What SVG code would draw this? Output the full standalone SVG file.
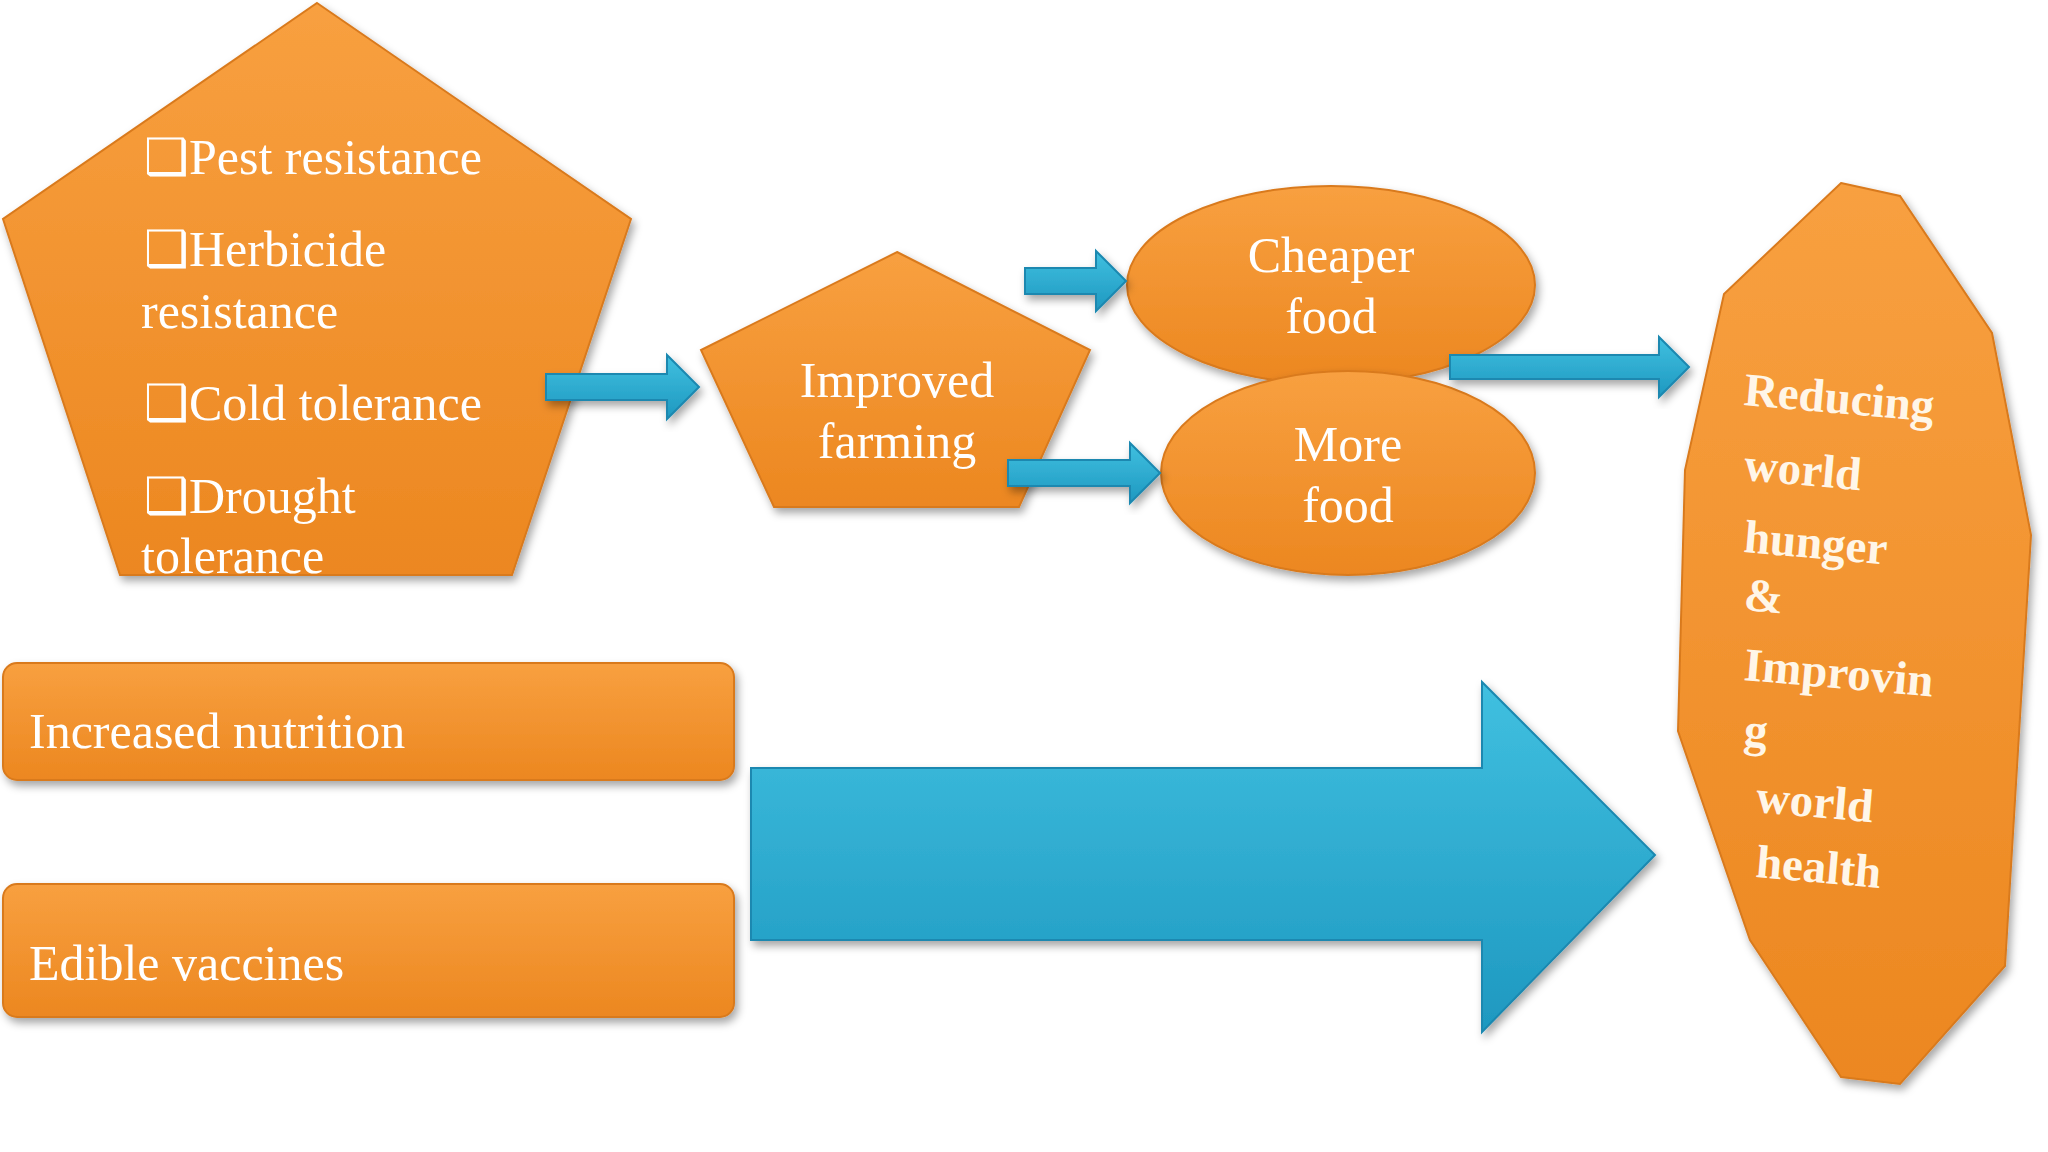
<svg xmlns="http://www.w3.org/2000/svg" width="2048" height="1152" viewBox="0 0 2048 1152">
<defs>
<linearGradient id="og" x1="0" y1="0" x2="0" y2="1"><stop offset="0" stop-color="#F8A040"/><stop offset="1" stop-color="#EC8720"/></linearGradient>
<linearGradient id="bg" x1="0" y1="0" x2="0" y2="1"><stop offset="0" stop-color="#40C0E0"/><stop offset="1" stop-color="#1E98C0"/></linearGradient>
<filter id="sh" x="-10%" y="-10%" width="130%" height="130%"><feDropShadow dx="3" dy="5" stdDeviation="4" flood-color="#000" flood-opacity="0.35"/></filter>
<style>
.o{fill:url(#og);stroke:#D97A1E;stroke-width:2;filter:url(#sh)}
.b{fill:url(#bg);stroke:#1A88B0;stroke-width:2;filter:url(#sh)}
.t{font-family:"Liberation Serif",serif;fill:#fff;font-size:50px}
.c{text-anchor:middle}
.r{font-family:"Liberation Serif",serif;font-weight:bold;fill:#FFF6E8;font-size:47px}
</style>
</defs>
<rect width="2048" height="1152" fill="#fff"/>
<g id="traits">
<polygon class="o" points="317,3 631,219 512,575 120,575 3,219"/>
<text class="t" x="144" y="174">❑Pest resistance</text>
<text class="t" x="144" y="266">❑Herbicide</text>
<text class="t" x="141" y="328">resistance</text>
<text class="t" x="144" y="420">❑Cold tolerance</text>
<text class="t" x="144" y="513">❑Drought</text>
<text class="t" x="141" y="573">tolerance</text>
</g>
<g id="farming">
<polygon class="o" points="897,252 1090,350 1019,507 774,507 701,350"/>
<text class="t c" x="897" y="397">Improved</text>
<text class="t c" x="897" y="458">farming</text>
</g>
<g id="cheaper">
<ellipse class="o" cx="1331" cy="285" rx="204" ry="99"/>
<text class="t c" x="1331" y="272">Cheaper</text>
<text class="t c" x="1331" y="333">food</text>
</g>
<g id="more">
<ellipse class="o" cx="1348" cy="473" rx="187" ry="102"/>
<text class="t c" x="1348" y="461">More</text>
<text class="t c" x="1348" y="522">food</text>
</g>
<g id="nutrition">
<rect class="o" x="3" y="663" width="731" height="117" rx="14"/>
<text class="t" x="29" y="748" font-size="90">Increased nutrition</text>
</g>
<g id="vaccines">
<rect class="o" x="3" y="884" width="731" height="133" rx="14"/>
<text class="t" x="29" y="980" font-size="90">Edible vaccines</text>
</g>
<g id="goal">
<polygon class="o" points="1841,183 1900,196 1992,333 2031,535 2005,966 1900,1084 1841,1077 1750,940 1678,731 1685,470 1724,294"/>
<text class="r" x="1743" y="405" transform="rotate(5 1743 405)">Reducing</text>
<text class="r" x="1743" y="480" transform="rotate(5 1743 480)">world</text>
<text class="r" x="1743" y="552" transform="rotate(5 1743 552)">hunger</text>
<text class="r" x="1743" y="610" transform="rotate(5 1743 610)">&amp;</text>
<text class="r" x="1743" y="680" transform="rotate(5 1743 680)">Improvin</text>
<text class="r" x="1743" y="745" transform="rotate(5 1743 745)">g</text>
<text class="r" x="1755" y="812" transform="rotate(5 1755 812)">world</text>
<text class="r" x="1755" y="877" transform="rotate(5 1755 877)">health</text>
</g>
<g id="connectors">
<polygon class="b" points="546,374 667,374 667,355 699,387 667,419 667,400 546,400"/>
<polygon class="b" points="1025,268 1096,268 1096,251 1126,281 1096,311 1096,294 1025,294"/>
<polygon class="b" points="1008,460 1130,460 1130,443 1160,473 1130,503 1130,486 1008,486"/>
<polygon class="b" points="1450,355 1659,355 1659,337 1689,367 1659,397 1659,379 1450,379"/>
<polygon class="b" points="751,768 1482,768 1482,682 1655,855 1482,1032 1482,940 751,940"/>
</g>
</svg>
